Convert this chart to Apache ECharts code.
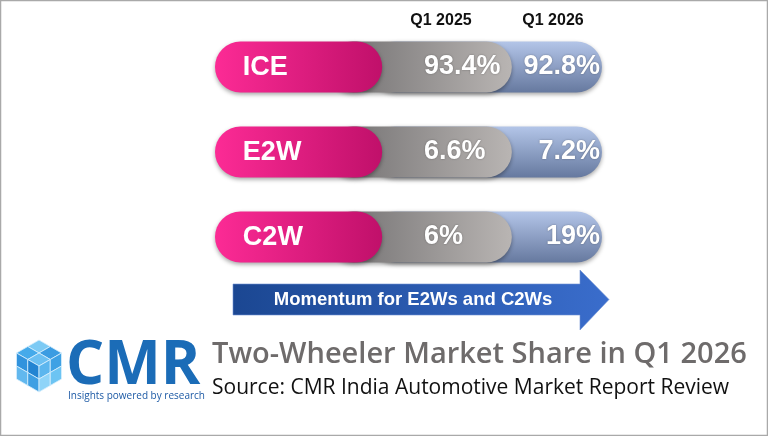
<!DOCTYPE html>
<html>
<head>
<meta charset="utf-8">
<script src="https://cdn.jsdelivr.net/npm/echarts@6/dist/echarts.min.js"></script>
<style>
  html, body { margin: 0; padding: 0; background: #fff; }
  #chart { width: 768px; height: 436px; }
</style>
</head>
<body>
<div id="chart"></div>
<script>
const categories = ['ICE', 'E2W', 'C2W'];
const periods = ['Q1 2025', 'Q1 2026'];
const share2025 = [93.4, 6.6, 6];
const share2026 = [92.8, 7.2, 19];

const title = 'Two-Wheeler Market Share in Q1 2026';
const source = 'Source: CMR India Automotive Market Report Review';
const arrowText = 'Momentum for E2Ws and C2Ws';

const chart = echarts.init(document.getElementById('chart'));
const LG = echarts.graphic.LinearGradient;

function pct(v) { return v + '%'; }

function renderRow(params, api) {
  const i = api.value(0);
  const yc = api.coord([0, i])[1];
  const X = v => api.coord([v, i])[0];
  const h = 51;
  const shadow = { shadowBlur: 4, shadowOffsetY: 2, shadowColor: 'rgba(0,0,0,0.35)' };
  const txt = { fill: '#fff', fontFamily: 'Liberation Sans', fontWeight: 'bold', fontSize: 27,
    verticalAlign: 'middle', textShadowBlur: 2, textShadowColor: 'rgba(0,0,0,0.35)' };
  return {
    type: 'group',
    children: [
      { type: 'rect', shape: { x: X(40), y: yc - h / 2, width: X(100) - X(40), height: h, r: h / 2 },
        style: Object.assign({ fill: new LG(0, 0, 0, 1, [{ offset: 0, color: '#b3c5e8' }, { offset: 1, color: '#66799f' }]) }, shadow) },
      { type: 'rect', shape: { x: X(29), y: yc - h / 2, width: X(76.7) - X(29), height: h, r: h / 2 },
        style: Object.assign({ fill: new LG(0, 0, 1, 0, [{ offset: 0, color: '#6f6d6e' }, { offset: 1, color: '#b9b5b3' }]) }, shadow) },
      { type: 'rect', shape: { x: X(0), y: yc - h / 2, width: X(43.2) - X(0), height: h, r: h / 2 },
        style: Object.assign({ fill: new LG(0, 0, 1, 0, [{ offset: 0, color: '#fc2b95' }, { offset: 1, color: '#c0106a' }]) }, shadow) },
      { type: 'text', style: Object.assign({}, txt, { text: categories[i], x: X(7.2), y: yc + 1, align: 'left', textShadowBlur: 0 }) },
      { type: 'text', style: Object.assign({}, txt, { text: pct(api.value(1)), x: X(54), y: yc, align: 'left' }) },
      { type: 'text', style: Object.assign({}, txt, { text: pct(api.value(2)), x: X(99.5), y: yc, align: 'right' }) }
    ]
  };
}

// cube logo: big hexagon split into three rhombus faces, each split 2x2
function cubeLogo(cx, cy, R) {
  const c = Math.cos(Math.PI / 6) * R;
  const T = [cx, cy - R], UR = [cx + c, cy - R / 2], LR = [cx + c, cy + R / 2];
  const B = [cx, cy + R], LL = [cx - c, cy + R / 2], UL = [cx - c, cy - R / 2], C = [cx, cy];
  const faces = [
    { q: [T, UR, C, UL], cols: ['#7ccaf4', '#45aaea', '#3b9ce2', '#6cc0f2'] },
    { q: [UL, C, B, LL], cols: ['#3193dd', '#62b8ee', '#2384d2', '#3f9fe3'] },
    { q: [C, UR, LR, B], cols: ['#5cb6ee', '#8fd4f8', '#3fa1e4', '#6cc4f3'] }
  ];
  const out = [];
  const lerp = (a, b, t) => [a[0] + (b[0] - a[0]) * t, a[1] + (b[1] - a[1]) * t];
  const pt = (q, u, v) => lerp(lerp(q[0], q[1], u), lerp(q[3], q[2], u), v);
  faces.forEach(f => {
    let k = 0;
    for (let a = 0; a < 2; a++) {
      for (let b = 0; b < 2; b++) {
        const u0 = a / 2, u1 = (a + 1) / 2, v0 = b / 2, v1 = (b + 1) / 2;
        out.push({
          type: 'polygon',
          shape: { points: [pt(f.q, u0, v0), pt(f.q, u1, v0), pt(f.q, u1, v1), pt(f.q, u0, v1)] },
          style: { fill: f.cols[k++], stroke: '#d8effc', lineWidth: 0.8 }
        });
      }
    }
  });
  return out;
}

const option = {
  animation: false,
  grid: { left: 215, right: 166, top: 24.5, bottom: 156.5 },
  xAxis: { type: 'value', min: 0, max: 100, show: false },
  yAxis: { type: 'category', data: categories, inverse: true, show: false },
  series: [{
    type: 'custom',
    renderItem: renderRow,
    data: categories.map((c, i) => [i, share2025[i], share2026[i]])
  }],
  graphic: [
    { type: 'rect', shape: { x: 0.5, y: 0.5, width: 767, height: 435 }, style: { fill: 'none', stroke: '#a9a9a9', lineWidth: 1.5 } },
    { type: 'text', style: { text: periods[0], x: 441, y: 21, align: 'center', verticalAlign: 'middle', fill: '#111', font: 'bold 16px "Liberation Sans"' } },
    { type: 'text', style: { text: periods[1], x: 553, y: 21, align: 'center', verticalAlign: 'middle', fill: '#111', font: 'bold 16px "Liberation Sans"' } },
    { type: 'polygon',
      shape: { points: [[233, 284], [580, 284], [580, 270], [609, 299.5], [580, 330], [580, 315], [233, 315]] },
      style: { fill: new LG(0, 0, 1, 0, [{ offset: 0, color: '#1b4792' }, { offset: 1, color: '#3a6dcc' }]), stroke: '#6f92d4', lineWidth: 0.6 } },
    { type: 'text', style: { text: arrowText, x: 413, y: 300, align: 'center', verticalAlign: 'middle', fill: '#fff', font: 'bold 18.5px "Liberation Sans"' } },
    { type: 'group', children: cubeLogo(39, 366, 26) },
    { type: 'text', style: { text: 'CMR', x: 66, y: 367, align: 'left', verticalAlign: 'middle', fill: '#1b6cb7', font: 'bold 60px "Open Sans"' } },
    { type: 'text', style: { text: 'Insights powered by research', x: 68, y: 396, align: 'left', verticalAlign: 'middle', fill: '#1d5aa5', font: '10px "Open Sans"' } },
    { type: 'text', style: { text: title, x: 212, y: 355, align: 'left', verticalAlign: 'middle', fill: '#6e6b6b', font: '600 29px "Open Sans"' } },
    { type: 'text', style: { text: source, x: 212, y: 388, align: 'left', verticalAlign: 'middle', fill: '#111', font: '21px "Open Sans"' } }
  ]
};
chart.setOption(option);
</script>
</body>
</html>
